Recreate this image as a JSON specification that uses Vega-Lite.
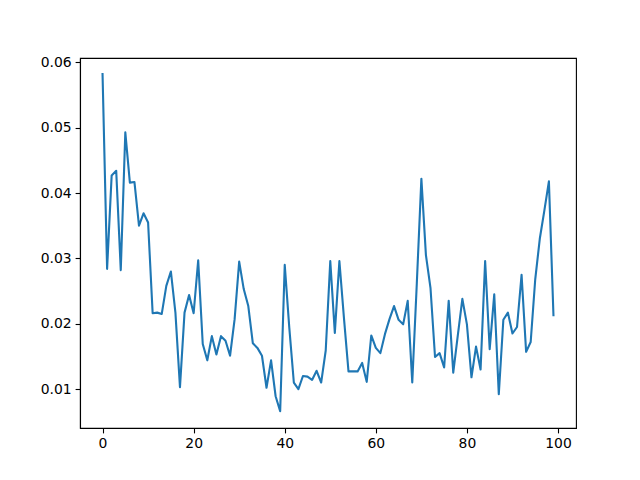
{
  "$schema": "https://vega.github.io/schema/vega-lite/v6.json",
  "width": 496,
  "height": 370,
  "autosize": "none",
  "padding": {"left": 80, "top": 58, "right": 64, "bottom": 52},
  "background": "white",
  "config": {
    "view": {"stroke": "black", "strokeWidth": 1.1},
    "axis": {
      "grid": false,
      "domainColor": "black",
      "domainWidth": 1.1,
      "tickColor": "black",
      "tickWidth": 1.1,
      "tickSize": 4.9,
      "labelFont": "DejaVu Sans",
      "labelFontSize": 13.9,
      "labelColor": "black",
      "labelPadding": 4,
      "title": null
    }
  },
  "data": {
    "values": [
      {"x":0,"y":0.0582},{"x":1,"y":0.0284},{"x":2,"y":0.0427},{"x":3,"y":0.0434},{"x":4,"y":0.0282},
      {"x":5,"y":0.0493},{"x":6,"y":0.0416},{"x":7,"y":0.0417},{"x":8,"y":0.0350},{"x":9,"y":0.0369},
      {"x":10,"y":0.0355},{"x":11,"y":0.0216},{"x":12,"y":0.0217},{"x":13,"y":0.0215},{"x":14,"y":0.0258},
      {"x":15,"y":0.0280},{"x":16,"y":0.0217},{"x":17,"y":0.0103},{"x":18,"y":0.0217},{"x":19,"y":0.0244},
      {"x":20,"y":0.0216},{"x":21,"y":0.0297},{"x":22,"y":0.0169},{"x":23,"y":0.0144},{"x":24,"y":0.0181},
      {"x":25,"y":0.0153},{"x":26,"y":0.0181},{"x":27,"y":0.0174},{"x":28,"y":0.0151},{"x":29,"y":0.0207},
      {"x":30,"y":0.0295},{"x":31,"y":0.0253},{"x":32,"y":0.0227},{"x":33,"y":0.0170},{"x":34,"y":0.0163},
      {"x":35,"y":0.0151},{"x":36,"y":0.0102},{"x":37,"y":0.0144},{"x":38,"y":0.0089},{"x":39,"y":0.0066},
      {"x":40,"y":0.0290},{"x":41,"y":0.0194},{"x":42,"y":0.0110},{"x":43,"y":0.0100},{"x":44,"y":0.0120},
      {"x":45,"y":0.0119},{"x":46,"y":0.0114},{"x":47,"y":0.0128},{"x":48,"y":0.0110},{"x":49,"y":0.0159},
      {"x":50,"y":0.0296},{"x":51,"y":0.0186},{"x":52,"y":0.0296},{"x":53,"y":0.0209},{"x":54,"y":0.0127},
      {"x":55,"y":0.0127},{"x":56,"y":0.0127},{"x":57,"y":0.0140},{"x":58,"y":0.0111},{"x":59,"y":0.0182},
      {"x":60,"y":0.0163},{"x":61,"y":0.0155},{"x":62,"y":0.0184},{"x":63,"y":0.0207},{"x":64,"y":0.0227},
      {"x":65,"y":0.0206},{"x":66,"y":0.0199},{"x":67,"y":0.0235},{"x":68,"y":0.0110},{"x":69,"y":0.0262},
      {"x":70,"y":0.0422},{"x":71,"y":0.0305},{"x":72,"y":0.0255},{"x":73,"y":0.0149},{"x":74,"y":0.0155},
      {"x":75,"y":0.0133},{"x":76,"y":0.0235},{"x":77,"y":0.0125},{"x":78,"y":0.0182},{"x":79,"y":0.0238},
      {"x":80,"y":0.0199},{"x":81,"y":0.0118},{"x":82,"y":0.0165},{"x":83,"y":0.0130},{"x":84,"y":0.0296},
      {"x":85,"y":0.0161},{"x":86,"y":0.0245},{"x":87,"y":0.0092},{"x":88,"y":0.0206},{"x":89,"y":0.0217},
      {"x":90,"y":0.0185},{"x":91,"y":0.0195},{"x":92,"y":0.0275},{"x":93,"y":0.0157},{"x":94,"y":0.0172},
      {"x":95,"y":0.0268},{"x":96,"y":0.0330},{"x":97,"y":0.0373},{"x":98,"y":0.0418},{"x":99,"y":0.0213}
    ]
  },
  "mark": {"type": "line", "color": "#1f77b4", "strokeWidth": 2.1, "strokeJoin": "round", "strokeCap": "square"},
  "encoding": {
    "x": {
      "field": "x", "type": "quantitative",
      "scale": {"domain": [-4.95, 103.95], "nice": false, "zero": false},
      "axis": {"values": [0, 20, 40, 60, 80, 100], "format": "d"}
    },
    "y": {
      "field": "y", "type": "quantitative",
      "scale": {"domain": [0.00404, 0.06067], "nice": false, "zero": false},
      "axis": {"values": [0.01, 0.02, 0.03, 0.04, 0.05, 0.06], "format": ".2f"}
    }
  }
}
